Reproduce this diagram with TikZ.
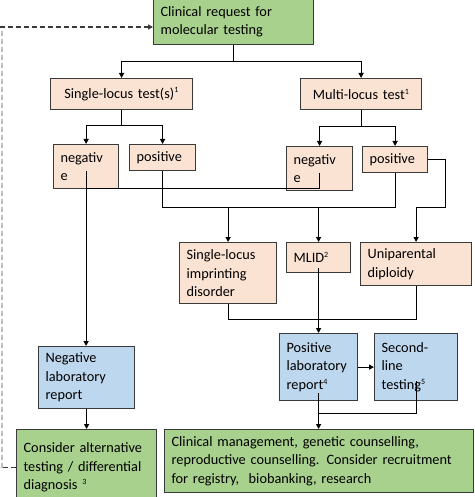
\documentclass[tikz,border=0pt]{standalone}
\usepackage{fontspec}
\setmainfont{Carlito}
\usetikzlibrary{arrows.meta,calc}
\definecolor{gfill}{HTML}{A9D18E}
\definecolor{pfill}{HTML}{FBE3D4}
\definecolor{bfill}{HTML}{BDD7EE}
\definecolor{edgec}{HTML}{3A3A3A}
\newcommand{\supn}[1]{\textsuperscript{\fontsize{8}{8}\selectfont #1}}
\tikzset{
  box/.style={draw=edgec, line width=1.2pt, anchor=north west, inner xsep=7pt, inner ysep=2pt,
    align=left, font=\fontsize{14.3}{18.5}\selectfont},
  gbox/.style={box, fill=gfill},
  pbox/.style={box, fill=pfill},
  bbox/.style={box, fill=bfill},
  conn/.style={line width=1.2pt, draw=black},
  arr/.style={conn, -{Triangle[length=5pt,width=5pt]}},
  dsh/.style={line width=1.2pt, dash pattern=on 5pt off 3pt},
}
\begin{document}
\begin{tikzpicture}[x=1pt,y=-1pt]
\useasboundingbox (0,0) rectangle (474,497);
% nodes
\node[gbox, minimum width=160pt, minimum height=46pt, text width=146pt] (req) at (153,-2) {Clinical request for\\molecular testing};
\node[pbox, minimum width=142pt, minimum height=31pt, text width=128pt, align=center] (slt) at (50,78) {Single-locus test(s)\supn{1}};
\node[pbox, minimum width=121pt, minimum height=31pt, text width=107pt, align=center] (mlt) at (300,78) {Multi-locus test\supn{1}};
\node[pbox, minimum width=65pt, minimum height=44pt, text width=51pt] (neg1) at (53,144) {negativ\\e};
\node[pbox, minimum width=66pt, minimum height=26pt, text width=52pt] (pos1) at (129,144) {positive};
\node[pbox, minimum width=66pt, minimum height=44pt, text width=52pt] (neg2) at (286,146) {negativ\\e};
\node[pbox, minimum width=65pt, minimum height=26pt, text width=51pt] (pos2) at (362,146) {positive};
\node[pbox, minimum width=97pt, minimum height=61pt, text width=83pt] (slid) at (179,242) {Single-locus\\imprinting\\disorder};
\node[pbox, minimum width=64pt, minimum height=30pt, text width=50pt] (mlid) at (286,242) {MLID\supn{2}};
\node[pbox, minimum width=111pt, minimum height=43pt, text width=97pt] (upd) at (360,242) {Uniparental\\diploidy};
\node[bbox, minimum width=78pt, minimum height=67pt, text width=64pt] (posrep) at (279,333) {Positive\\laboratory\\report\supn{4}};
\node[bbox, minimum width=83pt, minimum height=67pt, text width=69pt] (second) at (374,333) {Second-\\line\\testing\supn{5}};
\node[bbox, minimum width=96pt, minimum height=62pt, text width=82pt] (negrep) at (38,346) {Negative\\laboratory\\report};
\node[gbox, minimum width=140pt, minimum height=76pt, text width=126pt] (alt) at (16,429) {Consider alternative\\testing / differential\\diagnosis \supn{3}};
\node[gbox, minimum width=309pt, minimum height=63pt, text width=295pt] (clin) at (164,429) {Clinical management, genetic counselling,\\reproductive counselling. Consider recruitment\\for registry,\ \ biobanking, research};
% connectors
\draw[conn] (req.south) -- ++(0,16) coordinate (j1);
\draw[arr] (j1) -| (slt.north);
\draw[arr] (j1) -| (mlt.north);
\draw[conn] (slt.south) -- ++(0,15) coordinate (j2);
\draw[arr] (j2) -| (neg1.north);
\draw[arr] (j2) -| (pos1.north);
\draw[conn] (mlt.south) -- ++(0,16) coordinate (j3);
\draw[arr] (j3) -| (neg2.north);
\draw[arr] (j3) -| (pos2.north);
\draw[arr] ($(neg1.south)+(0,-18)$) -- (neg1.south |- negrep.north);
\coordinate (k) at ($(neg2.south)+(0,-3)$);
\draw[conn] ($(neg2.south)+(0,-18)$) -- (k) -- (k -| neg1.south);
\draw[conn] (pos1.south) -- ++(0,36) coordinate (j4) -- (j4 -| pos2.south) -- (pos2.south);
\draw[arr] (j4 -| slid.north) -- (slid.north);
\draw[arr] (j4 -| mlid.north) -- (mlid.north);
\draw[conn] (pos2.east) -- ++(17,0) coordinate (j5) -- (j5 |- j4) -- (j4 -| upd.north);
\draw[arr] (j4 -| upd.north) -- (upd.north);
\draw[conn] (slid.south) -- ++(0,15) coordinate (j6) -- (j6 -| upd.south) -- (upd.south);
\draw[arr] ($(mlid.south)+(0,-5)$) -- (mlid.south |- posrep.north);
\draw[arr] (posrep.east) -- (posrep.east -| second.west);
\draw[arr] ($(posrep.south)+(0,-8)$) -- (posrep.south |- clin.north);
\draw[conn] ($(second.south)+(0,-20)$) -- ($(second.south)+(0,12)$) coordinate (j7) -- (j7 -| posrep.south);
\draw[arr] (negrep.south) -- (negrep.south |- alt.north);
% feedback loop
\coordinate (d0) at (alt.west -| 0,0);
\coordinate (d1) at (2,27);
\coordinate (d2) at (req.west |- d1);
\draw[dsh, gray!50] (alt.west -| d1) -- (d1);
\draw[dsh, edgec] (alt.west) -- (d0);
\draw[dsh, edgec, -{Triangle[length=5pt,width=5pt]}] (0,27) -- (d2);
\end{tikzpicture}
\end{document}
